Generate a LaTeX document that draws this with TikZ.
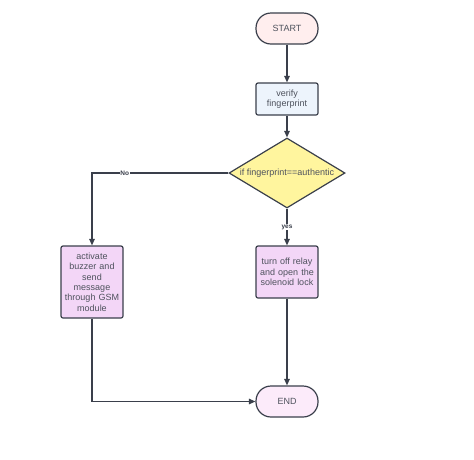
\documentclass[tikz,border=0pt]{standalone}
\usepackage{fontspec}
\setmainfont{Liberation Sans}
\definecolor{edge}{HTML}{3A3F4B}
\definecolor{termfill}{HTML}{FFEEEE}
\definecolor{endfill}{HTML}{FCEBFA}
\definecolor{stepfill}{HTML}{EDF4FC}
\definecolor{decfill}{HTML}{FFF59E}
\definecolor{actfill}{HTML}{F3D6F7}
\usetikzlibrary{arrows.meta, shapes.geometric, positioning}

\begin{document}
\begin{tikzpicture}[
            x=1pt, y=-1pt,
            font=\fontsize{9}{10.4}\selectfont,
            term/.style={draw=edge, line width=1.2pt, fill=termfill, rounded corners=15pt,
                        minimum width=62pt, minimum height=31pt, text=edge!90},
            stepbox/.style={draw=edge, line width=1.2pt, fill=stepfill, rounded corners=2pt,
                        inner xsep=2pt, minimum width=62pt, minimum height=32pt,
                        align=center, text width=57pt, text=edge!90},
            actbox/.style={stepbox, fill=actfill},
            decision/.style={draw=edge, line width=1.2pt, fill=decfill, diamond, aspect=1.66,
                        minimum width=116pt, minimum height=70pt, inner sep=0pt, text=edge!90},
            arr/.style={-{Triangle[length=6.5pt,width=5.5pt]}, line width=1.2pt, color=edge},
            lbl/.style={font=\fontsize{6.5}{8}\selectfont\bfseries, fill=white, inner sep=0.5pt, text=edge}
          ]
          \useasboundingbox (0,0) rectangle (474,459);
          \node[term] (start) at (287,28.5) {START};
          \node[stepbox] (verify) at (287,99) {verify\\fingerprint};
          \node[decision] (check) at (287,173) {if fingerprint==authentic};
          \node[actbox, minimum height=72pt] (alarm) at (92,282) {activate\\buzzer and\\send\\message\\through GSM\\module};
          \node[actbox, minimum height=52pt] (unlock) at (287,272) {turn off relay\\and open the\\solenoid lock};
          \node[term, fill=endfill] (end) at (287,401.5) {END};
          \draw[arr] (start)--(verify);
          \draw[arr] (verify)--(check);
          \draw[arr] (check.west) -| node[lbl, pos=0.38] {No} (alarm.north);
          \draw[arr] (check.south) -- node[lbl, pos=0.5] {yes} (unlock.north);
          \draw[arr] (unlock)--(end);
          \draw[arr] (alarm.south) |- (end.west);
        \end{tikzpicture}
\end{document}
